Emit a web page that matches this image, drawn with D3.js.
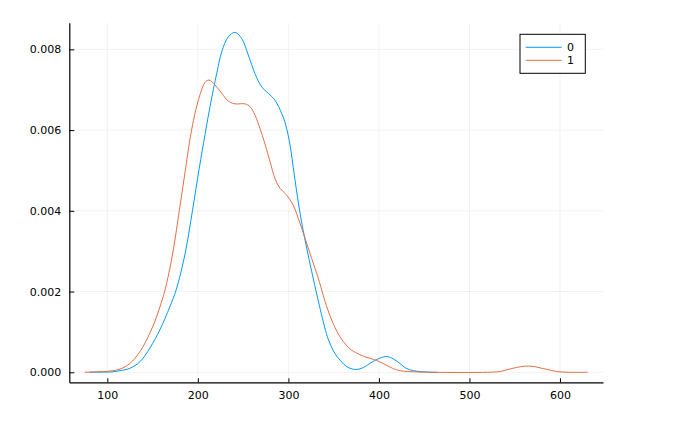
<!DOCTYPE html>
<html><head><meta charset="utf-8">
<script src="https://cdn.jsdelivr.net/npm/d3@7"></script>
<style>html,body{margin:0;padding:0;background:#fff;}svg{display:block;font-family:"DejaVu Sans",sans-serif;}</style>
</head><body>
<script>
const seriesNames = ["0", "1"];
const seriesColors = ["#009AFA", "#E36F47"];
const xTicks = [100, 200, 300, 400, 500, 600];
const yTicks = [0, 0.002, 0.004, 0.006, 0.008];
const series0 = [[80,0],[95,0.000005],[105,0.00001],[114,0.00004],[125,0.0001],[136,0.00026],[147,0.0006],[158,0.00105],[169,0.00162],[176,0.00204],[186,0.00295],[194,0.004],[201.5,0.00505],[208,0.0059],[214,0.00665],[220.8,0.0074],[226.4,0.00794],[233.6,0.00831],[241,0.00842],[248.4,0.00827],[255.7,0.00786],[263.1,0.0074],[270.5,0.00707],[277.8,0.00691],[285.2,0.00674],[292.6,0.00641],[297,0.00613],[301.8,0.00563],[306.5,0.00489],[311,0.0042],[315.4,0.00362],[320.2,0.00308],[325.7,0.0025],[332.4,0.00183],[340,0.00112],[344,0.00082],[350,0.00052],[357,0.0003],[366,0.00012],[375,0.00007],[383,0.00012],[390,0.00022],[401,0.00035],[409,0.00039],[416,0.00033],[423,0.00022],[430,0.0001],[438,0.00004],[453,0.000005],[465,0]];
const series1 = [[75,0],[88,0.00001],[103,0.00003],[114,0.00008],[125,0.00022],[136,0.00051],[147,0.00097],[154.5,0.00138],[162,0.0019],[167,0.00235],[173,0.00305],[179.5,0.004],[185.8,0.00495],[191.5,0.0058],[196.5,0.00638],[202.4,0.00688],[207.9,0.00718],[212.3,0.00724],[218.9,0.00712],[226.4,0.00691],[233.6,0.00672],[241,0.00665],[252,0.00665],[257.6,0.00658],[263.1,0.00637],[268.6,0.00604],[273.8,0.00568],[279.7,0.00522],[285.2,0.0048],[290.7,0.00456],[298.1,0.00439],[305.4,0.00414],[311,0.00381],[318.4,0.00332],[325.7,0.00282],[333,0.00233],[338.6,0.0019],[342,0.00165],[350,0.00118],[357,0.00088],[366,0.00062],[374,0.00049],[384,0.00039],[394,0.00032],[401,0.00026],[408,0.00018],[415,0.0001],[423,0.00004],[442,0.00001],[460,0],[520,0],[534,0.00002],[548,0.0001],[565,0.000156],[582,0.00009],[596,0.00002],[610,0],[630.6,0]];
const allSeries = [series0, series1];

const W = 689, H = 426;
const plot = {left: 69.3, right: 603, top: 22.7, bottom: 382.3};
const x = d3.scaleLinear().domain([58, 647.5]).range([plot.left, plot.right]);
const y = d3.scaleLinear().domain([-0.000248, 0.00866]).range([plot.bottom, plot.top]);

const svg = d3.select("body").append("svg").attr("width", W).attr("height", H);

// grid
const grid = svg.append("g");
grid.selectAll("line.vx").data(xTicks).join("line")
  .attr("x1", d => x(d)).attr("x2", d => x(d)).attr("y1", plot.top).attr("y2", plot.bottom)
  .attr("stroke", "#000").attr("stroke-opacity", 0.1).attr("stroke-width", 0.5);
grid.selectAll("line.hy").data(yTicks).join("line")
  .attr("y1", d => y(d)).attr("y2", d => y(d)).attr("x1", plot.left).attr("x2", plot.right)
  .attr("stroke", "#000").attr("stroke-opacity", 0.1).attr("stroke-width", 0.5);

// axes
const xAxis = d3.axisBottom(x).tickValues(xTicks).tickSizeInner(-4).tickSizeOuter(0).tickPadding(9).tickFormat(d3.format("d"));
const yAxis = d3.axisLeft(y).tickValues(yTicks).tickSizeInner(-5).tickSizeOuter(0).tickPadding(8).tickFormat(d3.format(".3f"));
const gx = svg.append("g").attr("transform", `translate(0,${plot.bottom})`).call(xAxis);
const gy = svg.append("g").attr("transform", `translate(${plot.left},0)`).call(yAxis);
[gx, gy].forEach(g => {
  g.select(".domain").attr("stroke", "#000").attr("stroke-width", 1.2);
  g.selectAll(".tick line").attr("stroke", "#000").attr("stroke-width", 1);
  g.selectAll(".tick text").attr("fill", "#000").attr("font-size", 11).attr("font-family", "DejaVu Sans, sans-serif");
});

// lines
const line = d3.line().x(d => x(d[0])).y(d => y(d[1])).curve(d3.curveCatmullRom.alpha(0.5));
allSeries.forEach((s, i) => {
  svg.append("path").datum(s).attr("d", line).attr("fill", "none")
    .attr("stroke", seriesColors[i]).attr("stroke-width", 1);
});

// legend
const lg = svg.append("g");
lg.append("rect").attr("x", 520).attr("y", 34.3).attr("width", 65.3).attr("height", 39)
  .attr("fill", "#fff").attr("stroke", "#000").attr("stroke-width", 1);
seriesNames.forEach((n, i) => {
  const yy = 47.3 + i * 13;
  lg.append("line").attr("x1", 525.7).attr("x2", 561.7).attr("y1", yy).attr("y2", yy)
    .attr("stroke", seriesColors[i]).attr("stroke-width", 1);
  lg.append("text").attr("x", 567).attr("y", yy + 4).attr("font-size", 11).attr("fill", "#000").text(n);
});
</script>
</body></html>
